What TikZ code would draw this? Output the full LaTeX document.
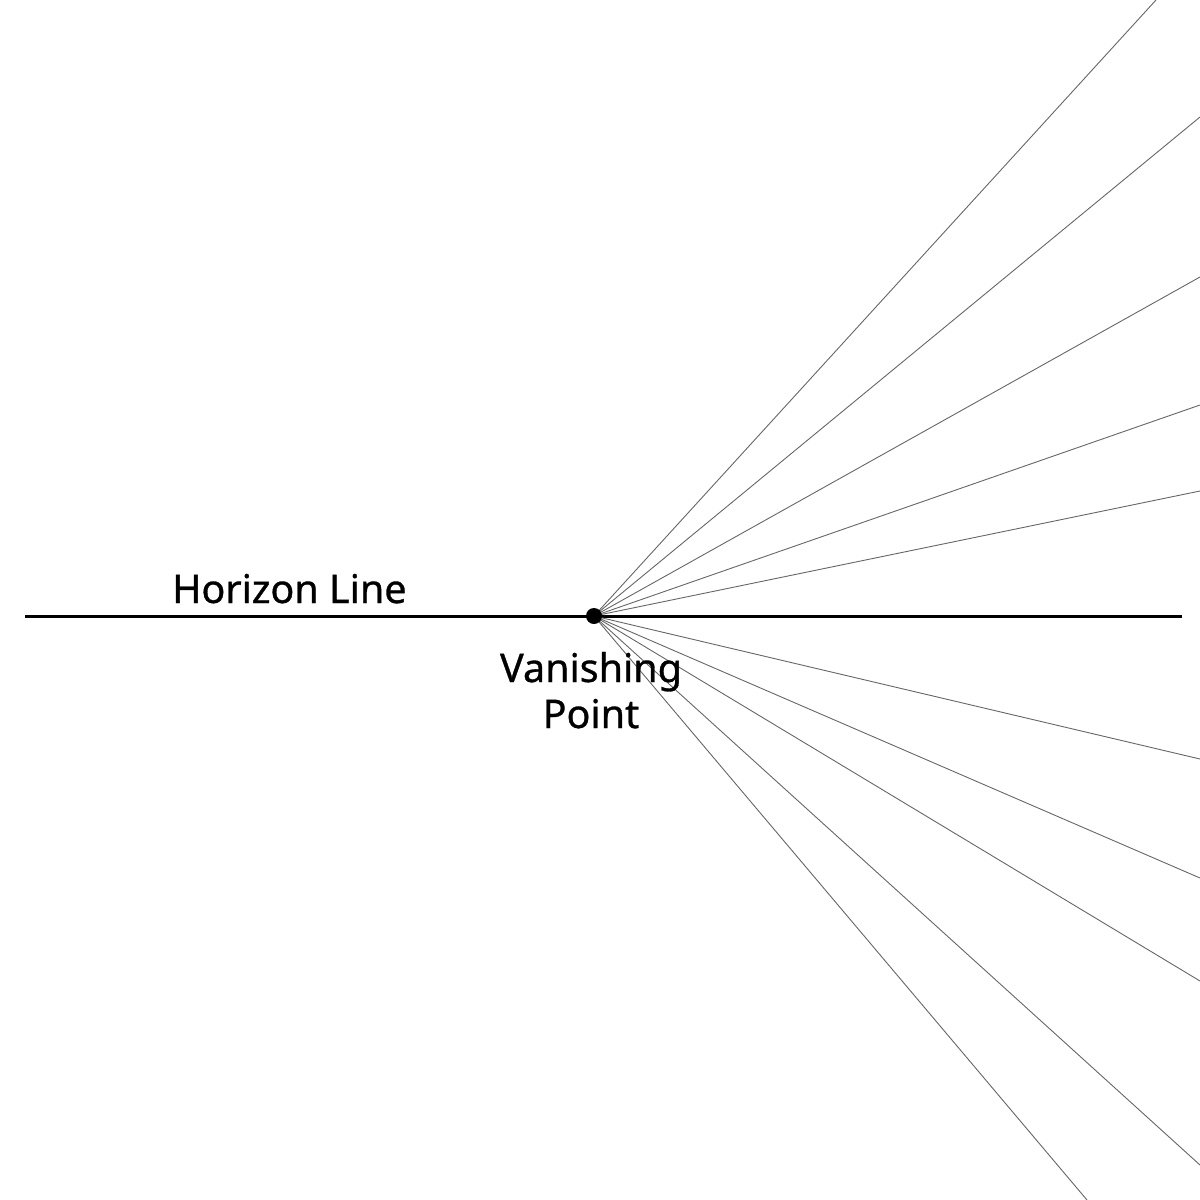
\documentclass[tikz,border=0pt]{standalone}
\usepackage{fontspec}
\setmainfont{Noto Sans}
\newfontfamily\labfont[FakeBold=0.8]{Noto Sans}
\begin{document}
\begin{tikzpicture}[x=1pt,y=-1pt,
  ray/.style={draw=black!60, line width=0.9pt},
  horizon/.style={draw=black, line width=3pt},
  label/.style={font=\labfont\fontsize{39.5}{46}\selectfont, inner sep=0pt}]
\useasboundingbox (0,0) rectangle (1200,1200);
\coordinate (hl) at (25,616);
\coordinate (hr) at (1182,616);
\coordinate (e1) at (1156,0);
\coordinate (e2) at (1200,117);
\coordinate (e3) at (1200,277);
\coordinate (e4) at (1200,405);
\coordinate (e5) at (1200,491);
\coordinate (e6) at (1200,759);
\coordinate (e7) at (1200,878);
\coordinate (e8) at (1200,981);
\coordinate (e9) at (1200,1165);
\coordinate (e10) at (1087,1200);
\coordinate (v) at (594,616);
\draw[horizon] (hl) -- (hr);
\foreach \i in {1,...,10} \draw[ray] (v) -- (e\i);
\node[circle, fill=black, inner sep=0pt, minimum size=16pt] (vp) at (v) {};
\node[label, anchor=base west] (hlab) at (172,603) {Horizon Line};
\node[label, anchor=base, align=center] (vlab) at (591,728) {Vanishing\\Point};
\end{tikzpicture}
\end{document}
